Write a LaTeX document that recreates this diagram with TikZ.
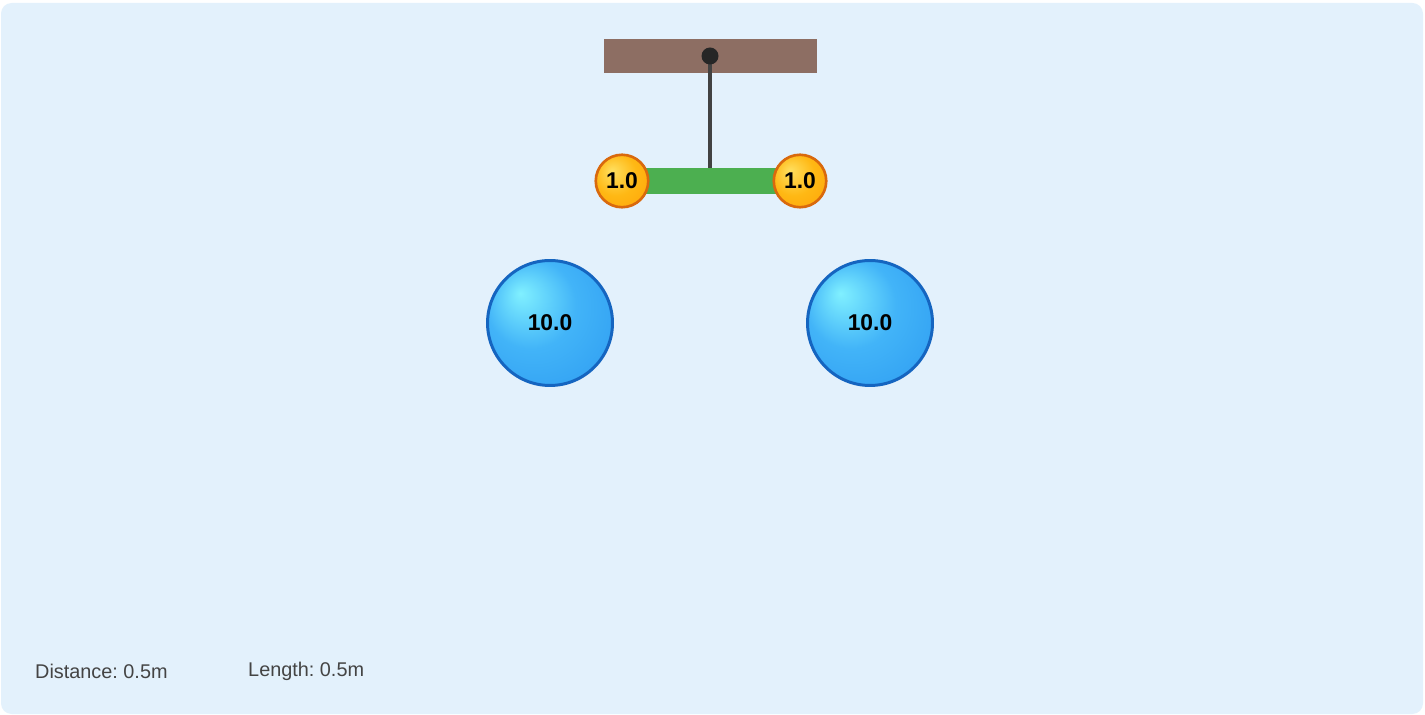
\documentclass[tikz,border=0pt]{standalone}
\usepackage{fontspec}
\setmainfont{Liberation Sans}
\frenchspacing
\definecolor{bgblue}{HTML}{E3F1FC}
\definecolor{beam}{HTML}{8D6E63}
\definecolor{rodgray}{HTML}{424242}
\definecolor{bargreen}{HTML}{4CAF50}
\definecolor{smallrim}{HTML}{D9690D}
\definecolor{bigrim}{HTML}{1565C0}
\definecolor{labelgray}{HTML}{444444}
\definecolor{bighi}{HTML}{80F0FF}
\definecolor{bigmid}{HTML}{42B4F8}
\definecolor{bigout}{HTML}{2490EE}
\definecolor{smallhi}{HTML}{FFE060}
\definecolor{smallmid}{HTML}{FFB814}
\definecolor{smallout}{HTML}{FF9800}
\pgfdeclareradialshading{bigballshade}{\pgfpoint{-12bp}{12bp}}{color(0bp)=(bighi);color(18bp)=(bigmid);color(50bp)=(bigout)}
\pgfdeclareradialshading{smallballshade}{\pgfpoint{-10bp}{10bp}}{color(0bp)=(smallhi);color(20bp)=(smallmid);color(50bp)=(smallout)}
\begin{document}
\begin{tikzpicture}[x=0.02cm,y=-0.02cm,
  bigball/.style={circle,draw=bigrim,line width=1.7pt,shading=bigballshade,minimum size=2.5cm,inner sep=0pt,font=\fontsize{13}{15}\selectfont\bfseries},
  smallball/.style={circle,draw=smallrim,line width=1.5pt,shading=smallballshade,minimum size=1.05cm,inner sep=0pt,font=\fontsize{13}{15}\selectfont\bfseries},
  readout/.style={anchor=west,text=labelgray,font=\fontsize{11.3}{13}\selectfont}]
\useasboundingbox (0,0) rectangle (1425,715);
\fill[bgblue,rounded corners=6pt] (1,3) rectangle (1423,714);
% support and rod
\fill[beam] (604,39) rectangle (817,73);
\node[fill=bargreen,minimum width=2.8cm,minimum height=0.52cm,inner sep=0pt] (bar) at (710,181) {};
\coordinate (top) at (710,56);
\draw[rodgray,line width=2.5pt] (top) -- (bar.north);
\node[circle,fill=black!85,minimum size=0.34cm,inner sep=0pt] (pivot) at (top) {};
% masses
\node[smallball] (m1) at (622,181) {1.0};
\node[smallball] (m2) at (800,181) {1.0};
\node[bigball] (M1) at (550,323) {10.0};
\node[bigball] (M2) at (870,323) {10.0};
% readouts
\node[readout] (dist) at (29,671) {Distance: 0.5m};
\node[readout] (len) at (242,671) {Length: 0.5m};
\end{tikzpicture}
\end{document}
